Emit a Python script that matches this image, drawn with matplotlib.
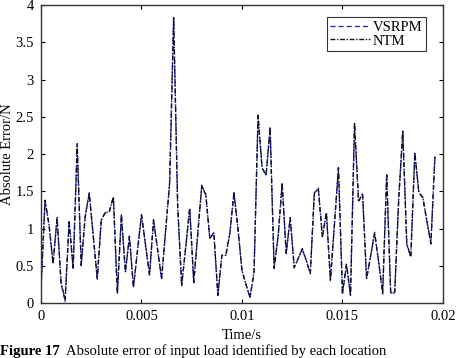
import numpy as np
import matplotlib
matplotlib.use('Agg')
import matplotlib.pyplot as plt
from matplotlib.ticker import FuncFormatter

# sample times (s) and absolute errors (N)
dt = 0.0002
n_points = 99
ntm = [0.20, 1.38, 1.05, 0.53, 1.14, 0.27, 0.05, 1.09, 0.47, 2.10,
       0.51, 1.16, 1.47, 0.90, 0.33, 1.11, 1.22, 1.22, 1.42, 0.13,
       1.18, 0.42, 0.89, 0.22, 0.70, 1.18, 0.78, 0.38, 1.11, 0.72,
       0.33, 0.97, 1.61, 3.84, 1.30, 0.24, 0.75, 1.27, 0.28, 0.93,
       1.58, 1.45, 0.87, 0.94, 0.11, 0.64, 0.64, 0.94, 1.48, 1.00,
       0.44, 0.25, 0.08, 0.42, 2.52, 1.81, 1.72, 2.35, 0.47, 0.90,
       1.60, 0.67, 1.14, 0.48, 0.60, 0.73, 0.57, 0.40, 1.47, 1.54,
       0.89, 1.21, 0.31, 1.05, 1.81, 0.13, 0.52, 0.11, 2.42, 1.36,
       1.47, 0.33, 0.63, 0.94, 0.55, 0.13, 1.72, 0.13, 0.15, 1.40,
       2.30, 0.80, 0.62, 2.01, 1.49, 1.41, 1.10, 0.80, 1.96]
vsrpm = [0.18, 1.37, 1.05, 0.52, 1.15, 0.26, 0.02, 1.10, 0.45, 2.14,
         0.50, 1.17, 1.48, 0.90, 0.32, 1.12, 1.21, 1.23, 1.43, 0.12,
         1.19, 0.41, 0.90, 0.20, 0.70, 1.19, 0.78, 0.37, 1.12, 0.72,
         0.32, 0.97, 1.60, 3.83, 1.30, 0.23, 0.75, 1.28, 0.27, 0.93,
         1.57, 1.46, 0.86, 0.95, 0.10, 0.64, 0.65, 0.94, 1.49, 1.00,
         0.43, 0.25, 0.07, 0.41, 2.51, 1.82, 1.71, 2.36, 0.46, 0.90,
         1.61, 0.66, 1.15, 0.47, 0.60, 0.72, 0.57, 0.39, 1.48, 1.53,
         0.88, 1.22, 0.30, 1.05, 1.82, 0.12, 0.52, 0.10, 2.41, 1.37,
         1.46, 0.32, 0.63, 0.95, 0.55, 0.12, 1.73, 0.12, 0.14, 1.40,
         2.31, 0.79, 0.61, 2.02, 1.48, 1.42, 1.10, 0.79, 1.97]
xticks = [0, 0.005, 0.01, 0.015, 0.02]
yticks = [0, 0.5, 1, 1.5, 2, 2.5, 3, 3.5, 4]

t = np.arange(n_points) * dt

plt.rcParams['font.family'] = ['Liberation Serif', 'DejaVu Serif']
plt.rcParams['font.size'] = 10.5

fig = plt.figure(figsize=(4.74, 3.58), dpi=100)
ax = fig.add_axes([0.0865, 0.1536, 0.848, 0.8324])

ax.plot(t, vsrpm, color='#1a1ad0', linestyle=(0, (4, 2.5)), linewidth=0.9, label='VSRPM')
ax.plot(t, ntm, color='#101020', linestyle=(0, (3.5, 1.2, 1, 1.2)), linewidth=1.0, label='NTM')

ax.set_xlim(0, 0.02)
ax.set_ylim(0, 4)
ax.set_xticks(xticks)
ax.set_yticks(yticks)
fmt = FuncFormatter(lambda v, p: '%g' % v)
ax.xaxis.set_major_formatter(fmt)
ax.yaxis.set_major_formatter(fmt)
ax.tick_params(direction='in', top=True, right=True, length=3, width=0.8, pad=5)
for s in ax.spines.values():
    s.set_linewidth(1.0)
    s.set_color('#333333')

ax.set_xlabel('Time/s', labelpad=4)
ax.set_ylabel('Absolute Error/N')
ax.yaxis.set_label_coords(-0.068, 0.5)

leg = ax.legend(loc='upper right', bbox_to_anchor=(0.976, 0.985), frameon=True,
                fancybox=False, edgecolor='black', handlelength=2.7,
                handletextpad=0.2, borderpad=0.25, labelspacing=0.05)
leg.get_frame().set_linewidth(0.8)

fig.text(0.0, 0.0, 'Figure 17', fontweight='bold', fontsize=10.5, va='bottom')
fig.text(0.14, 0.0, 'Absolute error of input load identified by each location',
         fontsize=10.5, va='bottom')

fig.savefig('out.png', dpi=100)
